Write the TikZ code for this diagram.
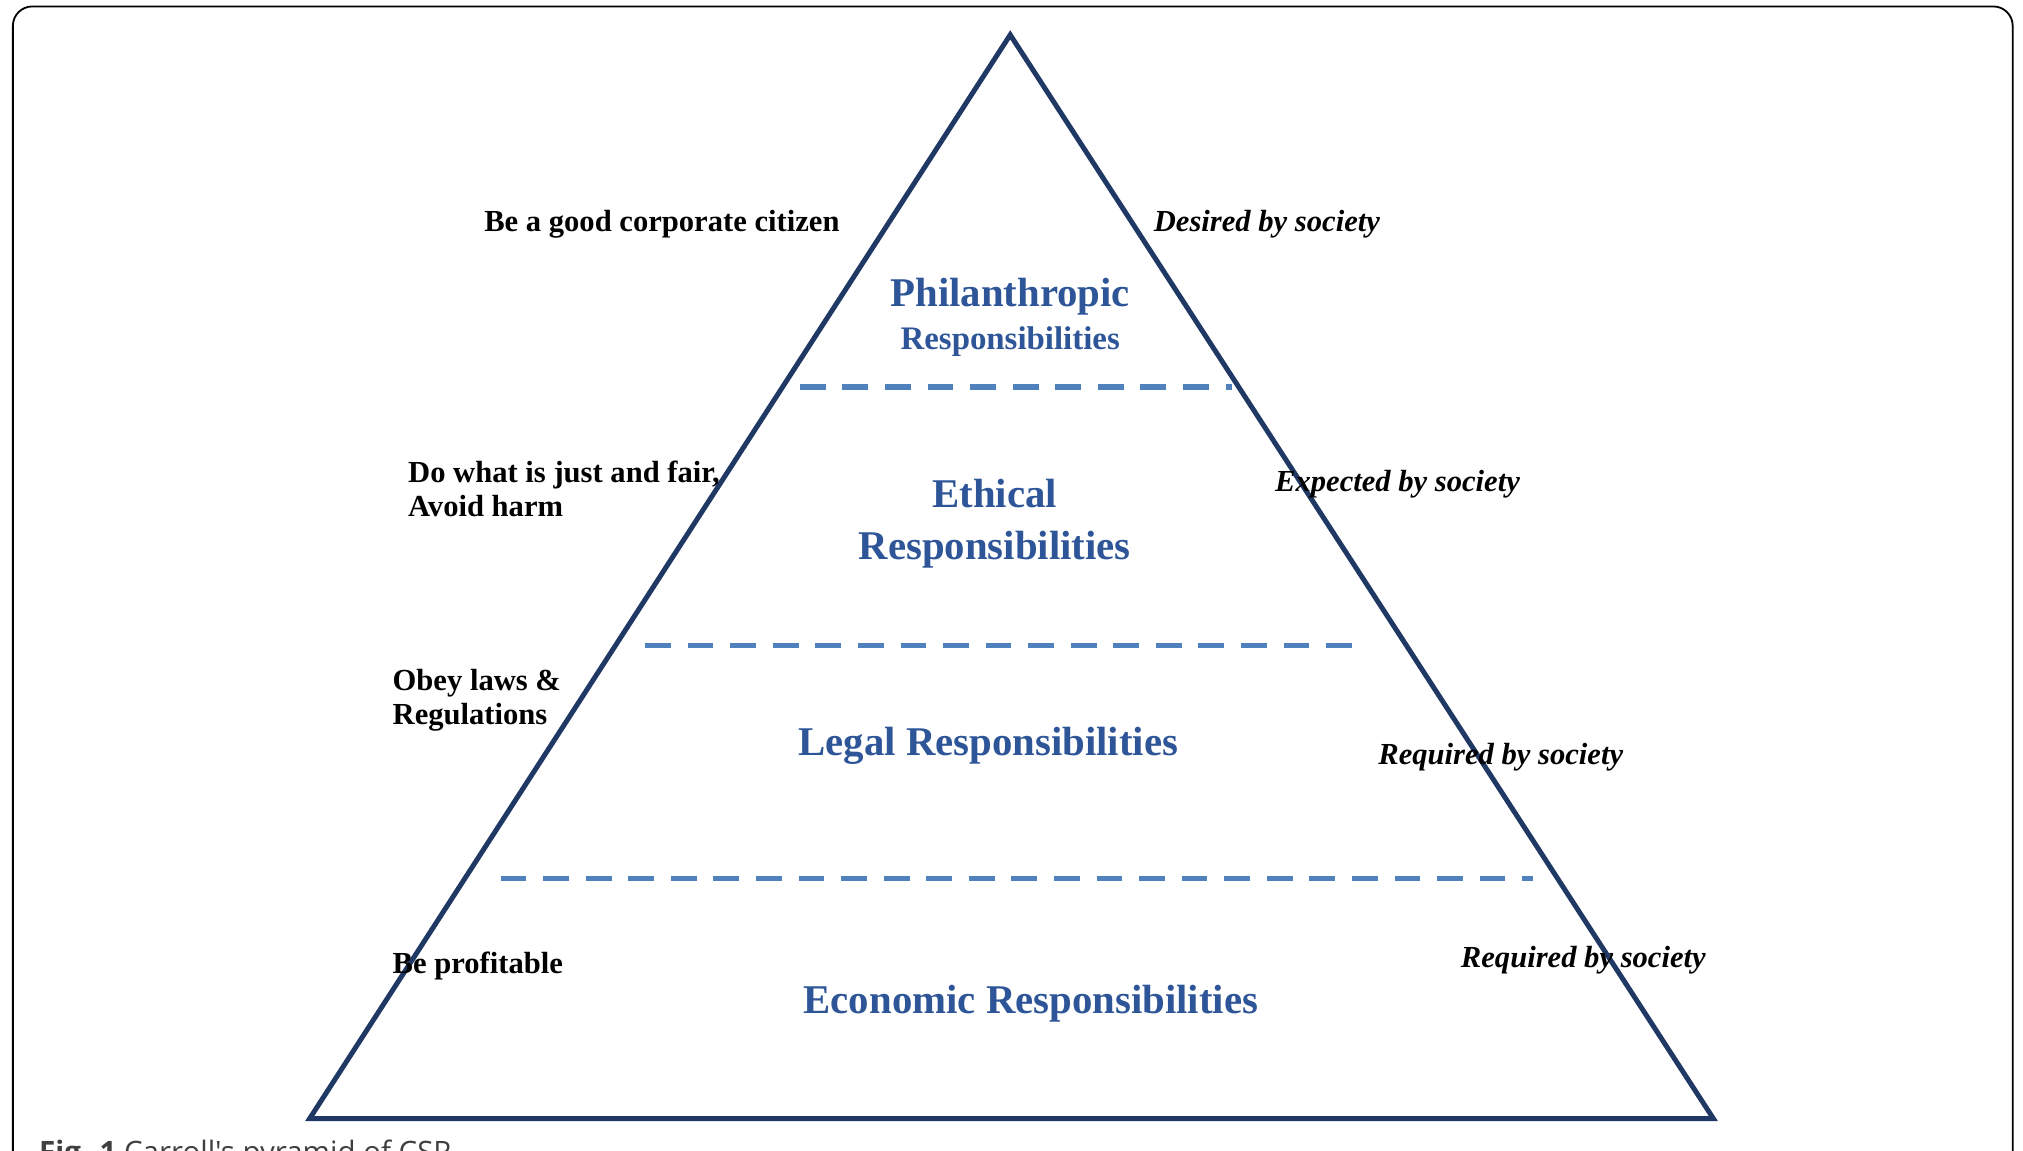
\documentclass[tikz,border=0pt]{standalone}
\usepackage{fontspec}
\setmainfont{Liberation Serif}
\newfontfamily\capfont{Open Sans}
\definecolor{tri}{HTML}{1F3864}
\definecolor{ttl}{HTML}{2E5597}
\definecolor{dsh}{HTML}{4F81BD}
\begin{document}
\begin{tikzpicture}[x=0.02cm,y=-0.02cm,
  blk/.style={font=\bfseries\fontsize{13.5}{15}\selectfont,align=left,anchor=west,inner sep=0},
  itl/.style={font=\bfseries\itshape\fontsize{13.5}{15}\selectfont,anchor=west,inner sep=0},
  ttlb/.style={font=\bfseries\fontsize{18}{21}\selectfont,text=ttl,align=center,inner sep=0},
  dl/.style={draw=dsh,line width=0.08cm,dash pattern=on 0.4cm off 0.26cm}]
\useasboundingbox (0,0) rectangle (1568,892);
\clip (0,0) rectangle (1568,892);
\draw[line width=0.8pt,rounded corners=0.3cm] (10,5) rectangle (1560,920);
\coordinate (A) at (783,27); \coordinate (B) at (240,867); \coordinate (C) at (1328,867);
\draw[tri,line width=2.2pt,line join=miter] (A) -- (B) -- (C) -- cycle;
\coordinate (d1a) at (620,300); \coordinate (d1b) at (955,300);
\coordinate (d2a) at (500,500); \coordinate (d2b) at (1055,500);
\coordinate (d3a) at (388,681); \coordinate (d3b) at (1188,681);
\draw[dl] (d1a) -- (d1b); \draw[dl] (d2a) -- (d2b); \draw[dl] (d3a) -- (d3b);
\node[ttlb] (p) at (783,246) {Philanthropic\\[-2pt]{\fontsize{14.5}{17}\selectfont Responsibilities}};
\node[ttlb] (e) at (771,406) {Ethical\\[2pt]Responsibilities};
\node[ttlb] (l) at (766,578) {Legal Responsibilities};
\node[ttlb] (ec) at (799,778) {Economic Responsibilities};
\node[blk] (t1) at (375,174) {Be a good corporate citizen};
\node[blk] (t2) at (316,379) {Do what is just and fair,\\Avoid harm};
\node[blk] (t3) at (304,543) {Obey laws \&\\Regulations};
\node[blk] (t4) at (304,749) {Be profitable};
\node[itl] (r1) at (894,174) {Desired by society};
\node[itl] (r2) at (988,375) {Expected by society};
\node[itl] (r3) at (1068,587) {Required by society};
\node[itl] (r4) at (1132,744) {Required by society};
\node[anchor=base west,inner sep=0,text=black!75,font=\capfont\fontsize{13}{15}\selectfont] (cap) at (30,901) {\textbf{Fig. 1} Carroll's pyramid of CSR};
\end{tikzpicture}
\end{document}
